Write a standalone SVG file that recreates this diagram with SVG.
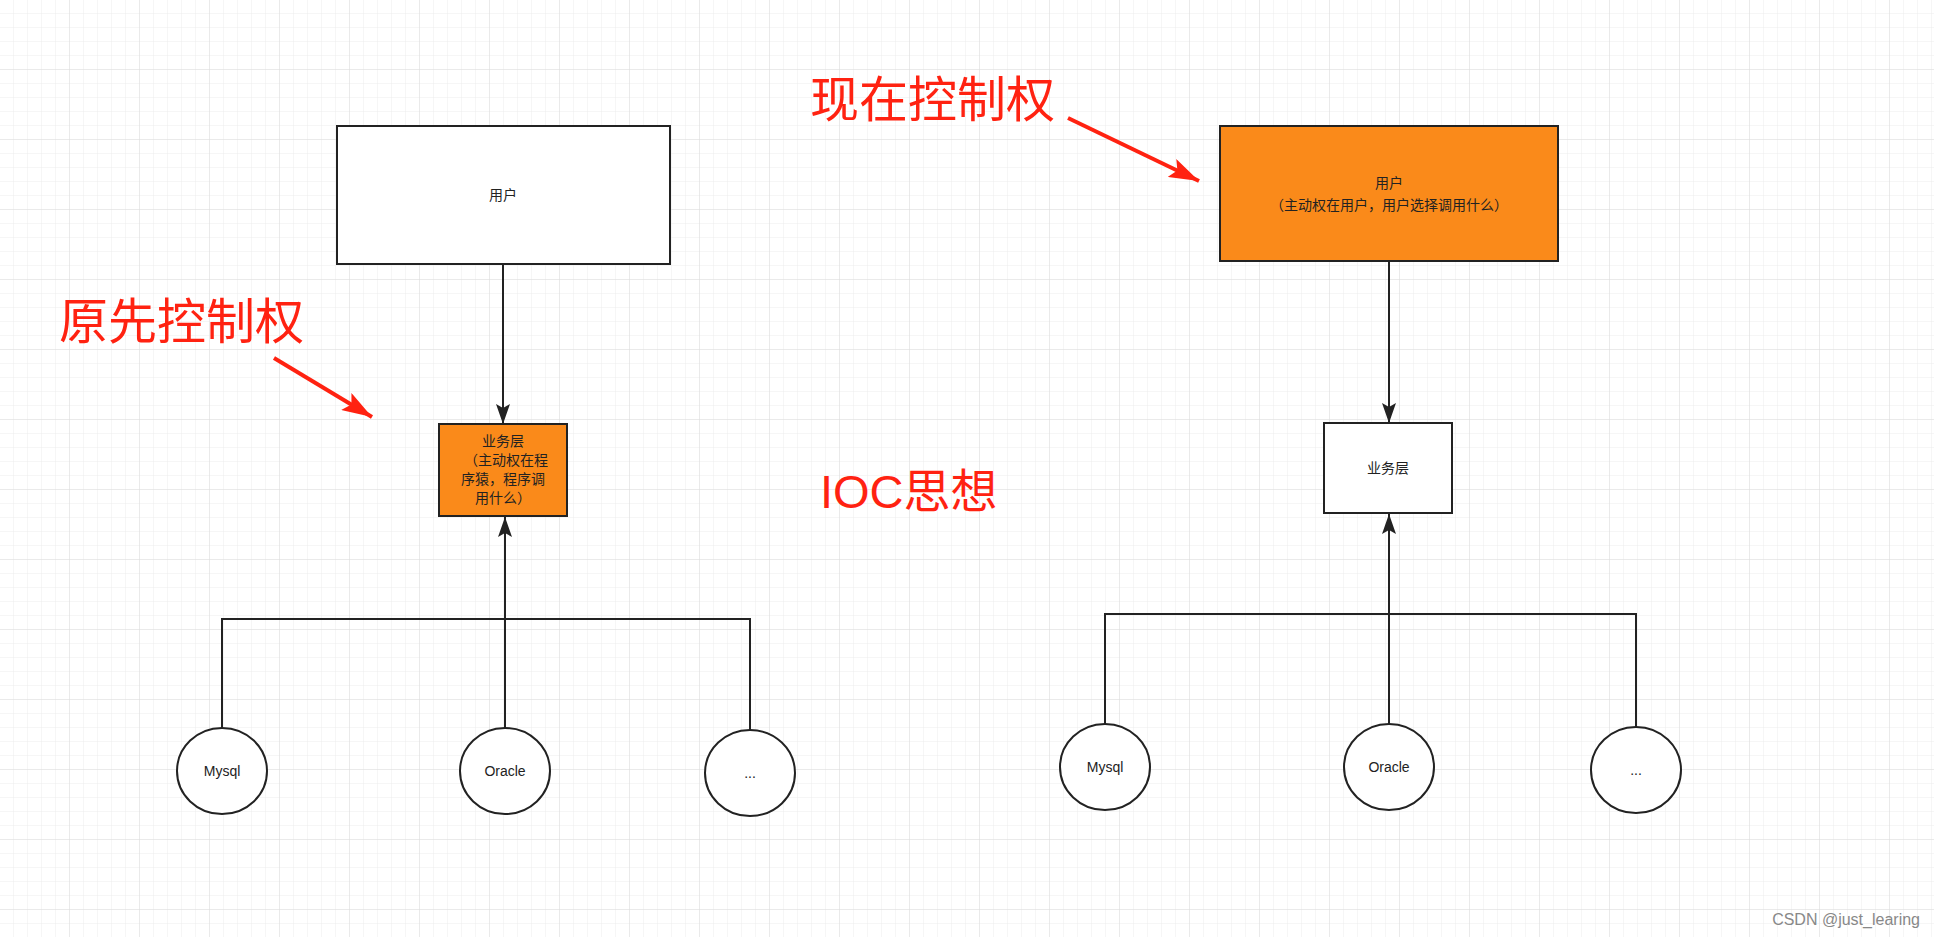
<svg xmlns="http://www.w3.org/2000/svg" width="1934" height="937" viewBox="0 0 1934 937">
<defs>
<pattern id="g" width="14" height="14" patternUnits="userSpaceOnUse"><path d="M14 0V14H0" fill="none" stroke="#ececec" stroke-width="1"/></pattern>
<pattern id="G" width="70" height="70" patternUnits="userSpaceOnUse"><rect width="70" height="70" fill="url(#g)"/><path d="M70 0V70H0" fill="none" stroke="#dedede" stroke-width="1"/></pattern>
<marker id="a" viewBox="0 0 20 14" refX="20" refY="7" markerWidth="20" markerHeight="14" orient="auto" markerUnits="userSpaceOnUse"><path d="M0 0L20 7L0 14L4 7Z" fill="#222"/></marker>
<marker id="ra" viewBox="0 0 30 20" refX="30" refY="10" markerWidth="30" markerHeight="20" orient="auto" markerUnits="userSpaceOnUse"><path d="M0 0L30 10L0 20L6 10Z" fill="#f21"/></marker>
<style>
.n{stroke:#222;stroke-width:2}
.c{fill:none;stroke:#222;stroke-width:2}
.t{font-family:"Liberation Sans","Noto Sans CJK SC",sans-serif;font-size:14px;fill:#222;text-anchor:middle}
.r{font-family:"Liberation Sans","Noto Sans CJK SC",sans-serif;fill:#f21}
</style>
</defs>
<rect width="1934" height="937" fill="#fff"/>
<rect width="1934" height="937" fill="url(#G)"/>
<g id="connectors">
<path class="c" d="M503 264V424" marker-end="url(#a)"/>
<path class="c" d="M222 728V619H750V730M505 728V619"/>
<path class="c" d="M505 619V517" marker-end="url(#a)"/>
<path class="c" d="M1389 261V423" marker-end="url(#a)"/>
<path class="c" d="M1105 724V614H1636V727M1389 724V614"/>
<path class="c" d="M1389 614V514" marker-end="url(#a)"/>
<path d="M274 358L372 417" stroke="#f21" stroke-width="4" marker-end="url(#ra)"/>
<path d="M1068 118L1199 181" stroke="#f21" stroke-width="4" marker-end="url(#ra)"/>
</g>
<g id="user1"><rect class="n" x="337" y="126" width="333" height="138" fill="#fff"/><text class="t" x="503" y="200">用户</text></g>
<g id="biz1"><rect class="n" x="439" y="424" width="128" height="92" fill="#fa8a1a"/>
<text class="t" x="503" y="446">业务层</text><text class="t" x="506" y="465">（主动权在程</text><text class="t" x="503" y="484">序猿，程序调</text><text class="t" x="503" y="503">用什么）</text></g>
<g id="mysql1"><ellipse class="n" cx="222" cy="771" rx="45" ry="43" fill="#fff"/><text class="t" x="222" y="776">Mysql</text></g>
<g id="oracle1"><ellipse class="n" cx="505" cy="771" rx="45" ry="43" fill="#fff"/><text class="t" x="505" y="776">Oracle</text></g>
<g id="etc1"><ellipse class="n" cx="750" cy="773" rx="45" ry="43" fill="#fff"/><text class="t" x="750" y="778">...</text></g>
<g id="user2"><rect class="n" x="1220" y="126" width="338" height="135" fill="#fa8a1a"/><text class="t" x="1389" y="188">用户</text><text class="t" x="1389" y="210">（主动权在用户，用户选择调用什么）</text></g>
<g id="biz2"><rect class="n" x="1324" y="423" width="128" height="90" fill="#fff"/><text class="t" x="1388" y="473">业务层</text></g>
<g id="mysql2"><ellipse class="n" cx="1105" cy="767" rx="45" ry="43" fill="#fff"/><text class="t" x="1105" y="772">Mysql</text></g>
<g id="oracle2"><ellipse class="n" cx="1389" cy="767" rx="45" ry="43" fill="#fff"/><text class="t" x="1389" y="772">Oracle</text></g>
<g id="etc2"><ellipse class="n" cx="1636" cy="770" rx="45" ry="43" fill="#fff"/><text class="t" x="1636" y="775">...</text></g>
<text class="r" x="59" y="339" font-size="49">原先控制权</text>
<text class="r" x="810" y="117" font-size="49">现在控制权</text>
<text class="r" x="820" y="508" font-size="47">IOC思想</text>
<text x="1920" y="925" font-family="Liberation Sans,sans-serif" font-size="16" fill="#888" text-anchor="end">CSDN @just_learing</text>
</svg>
